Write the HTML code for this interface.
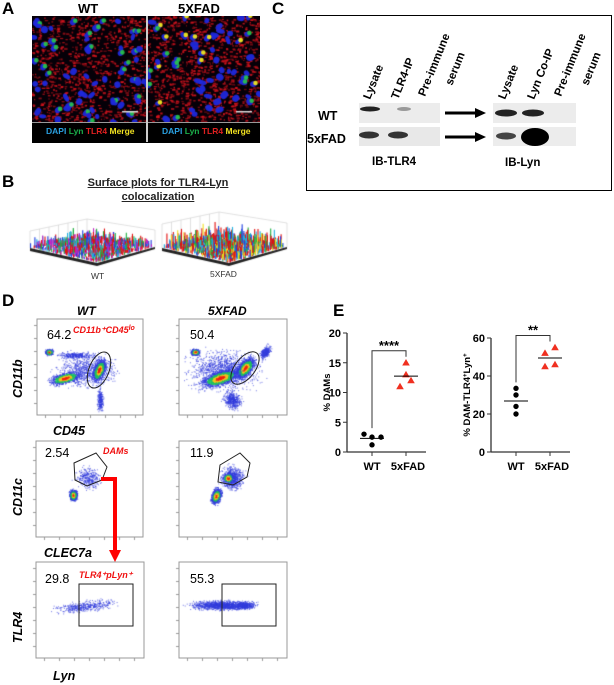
<!DOCTYPE html>
<html><head><meta charset="utf-8"><style>
body{margin:0;background:#fff;width:614px;height:685px;position:relative;overflow:hidden;font-family:"Liberation Sans",Arial,sans-serif}
.a{position:absolute}
canvas{position:absolute}
.lbl{position:absolute;font-weight:bold;font-size:17px}
</style></head><body>
<div class="lbl" style="left:2px;top:-1px">A</div>
<div class="lbl" style="left:2px;top:172px">B</div>
<div class="lbl" style="left:272px;top:-1px">C</div>
<div class="lbl" style="left:2px;top:291px">D</div>
<div class="lbl" style="left:333px;top:301px">E</div>

<div class="a" style="left:78px;top:1px;font-weight:bold;font-size:13px">WT</div>
<div class="a" style="left:178px;top:1px;font-weight:bold;font-size:13px">5XFAD</div>
<canvas id="micA" width="228" height="106" style="left:32px;top:16px"></canvas>
<div class="a" style="left:32px;top:122px;width:228px;height:20px;background:#000;border-top:1px solid #999"></div>
<div class="a" style="left:146px;top:16px;width:1.5px;height:126px;background:#ccc"></div>
<div class="a" style="left:46px;top:126px;font-size:8.5px;font-weight:bold"><span style="color:#2aa0e0">DAPI</span> <span style="color:#1bb04a">Lyn</span> <span style="color:#e02020">TLR4</span> <span style="color:#f0e020">Merge</span></div>
<div class="a" style="left:162px;top:126px;font-size:8.5px;font-weight:bold"><span style="color:#2aa0e0">DAPI</span> <span style="color:#1bb04a">Lyn</span> <span style="color:#e02020">TLR4</span> <span style="color:#f0e020">Merge</span></div>

<div class="a" style="left:58px;top:176px;width:200px;text-align:center;font-size:11px;font-weight:bold;text-decoration:underline;line-height:14px;color:#222">Surface plots for TLR4-Lyn<br>colocalization</div>
<canvas id="surf" width="300" height="60" style="left:0px;top:210px"></canvas>
<div class="a" style="left:91px;top:271px;font-size:8.5px;color:#333">WT</div>
<div class="a" style="left:210px;top:269px;font-size:8.5px;color:#333">5XFAD</div>

<div class="a" style="left:306px;top:15px;width:304px;height:174px;border:1.5px solid #000"></div>
<svg class="a" style="left:0;top:0" width="614" height="300">
<g font-weight="bold" font-size="11.5" font-family="Liberation Sans">
<text transform="translate(370,100) rotate(-68)">Lysate</text>
<text transform="translate(398,100) rotate(-68)">TLR4-IP</text>
<text transform="translate(425,97) rotate(-68)">Pre-immune</text>
<text transform="translate(452,86) rotate(-68)">serum</text>
<text transform="translate(505,100) rotate(-68)">Lysate</text>
<text transform="translate(534,100) rotate(-68)">Lyn Co-IP</text>
<text transform="translate(561,97) rotate(-68)">Pre-immune</text>
<text transform="translate(588,86) rotate(-68)">serum</text>
</g>
<rect x="359" y="103" width="81" height="20" fill="#ececec"/>
<rect x="359" y="127" width="81" height="19" fill="#e8e8e8"/>
<rect x="493" y="103" width="83" height="20" fill="#ececec"/>
<rect x="493" y="127" width="83" height="19" fill="#ececec"/>
<ellipse cx="370" cy="109" rx="10" ry="2.5" fill="#222"/>
<ellipse cx="404" cy="109" rx="7" ry="2" fill="#999"/>
<ellipse cx="369" cy="135" rx="10" ry="3.5" fill="#333"/>
<ellipse cx="398" cy="135" rx="10" ry="3.5" fill="#333"/>
<ellipse cx="506" cy="113" rx="11" ry="3.5" fill="#222"/>
<ellipse cx="533" cy="113" rx="11" ry="3.5" fill="#222"/>
<ellipse cx="506" cy="136" rx="10" ry="3.5" fill="#444"/>
<ellipse cx="535" cy="137" rx="14" ry="9" fill="#000"/>
<g stroke="#000" stroke-width="3"><line x1="445" y1="113" x2="476" y2="113"/><line x1="445" y1="137" x2="476" y2="137"/></g>
<polygon points="475,108 486,113 475,118" fill="#000"/><polygon points="475,132 486,137 475,142" fill="#000"/>
<text x="318" y="120" font-size="12.5" font-weight="bold">WT</text>
<text x="307" y="143" font-size="12.5" font-weight="bold">5xFAD</text>
<text x="372" y="165" font-size="11.5" font-weight="bold">IB-TLR4</text>
<text x="505" y="166" font-size="11.5" font-weight="bold">IB-Lyn</text>
</svg>

<!-- Panel D -->
<canvas id="flow" width="330" height="685" style="left:0;top:0"></canvas>
<svg class="a" style="left:0;top:0" width="330" height="685" font-family="Liberation Sans">
<g font-size="12" font-weight="bold" font-style="italic">
<text x="77" y="315">WT</text><text x="208" y="315">5XFAD</text></g>
<g fill="none" stroke="#999" stroke-width="1">
<rect x="37" y="319" width="106" height="96"/><rect x="179" y="319" width="108" height="96"/>
<rect x="36" y="441" width="107" height="96"/><rect x="179" y="441" width="108" height="96"/>
<rect x="36" y="562" width="108" height="96"/><rect x="179" y="562" width="108" height="96"/>
</g>
<g fill="none" stroke="#222" stroke-width="1">
<ellipse cx="99" cy="370" rx="10" ry="19" transform="rotate(22 99 370)"/>
<ellipse cx="245" cy="368" rx="10" ry="19" transform="rotate(38 245 368)"/>
<polygon points="74,463 96,453 107,467 102,480 87,486 75,480"/>
<polygon points="220,465 240,453 250,463 247,477 233,485 218,482"/>
<rect x="79" y="584" width="54" height="42"/><rect x="222" y="584" width="54" height="42"/>
</g>
<g font-size="12.5" fill="#000"><text x="47" y="339">64.2</text><text x="190" y="339">50.4</text>
<text x="45" y="457">2.54</text><text x="190" y="457">11.9</text>
<text x="45" y="583">29.8</text><text x="190" y="583">55.3</text></g>
<g font-size="9" fill="#f01010" font-weight="bold" font-style="italic">
<text x="73" y="333">CD11b⁺CD45<tspan font-size="7" dy="-3">lo</tspan></text>
<text x="103" y="454">DAMs</text>
<text x="79" y="578">TLR4⁺pLyn⁺</text></g>
<g font-size="12.5" font-weight="bold" font-style="italic">
<text transform="translate(22,398) rotate(-90)">CD11b</text>
<text x="53" y="435">CD45</text>
<text transform="translate(22,516) rotate(-90)">CD11c</text>
<text x="44" y="557">CLEC7a</text>
<text transform="translate(22,643) rotate(-90)">TLR4</text>
<text x="53" y="680">Lyn</text></g>
<polyline points="101,479 115,479 115,552" fill="none" stroke="#f00" stroke-width="4"/>
<polygon points="109,550 121,550 115,562" fill="#f00"/>
</svg>

<!-- Panel E -->
<svg class="a" id="eSvg" style="left:0;top:0" width="614" height="685" font-family="Liberation Sans"></svg>

<script>
// Panel E data
const groups=["WT","5xFAD"];
const damsWT=[3.0,2.5,2.5,1.2];
const dams5x=[15.0,13.0,12.0,11.0];
const damTicks=[0,5,10,15,20];
const tlrWT=[33.5,30,24,20];
const tlr5x=[52,55,45,46];
const tlrTicks=[0,20,40,60];
const damSig="****", tlrSig="**";

const NS="http://www.w3.org/2000/svg";
const svg=document.getElementById('eSvg');
function mk(t,a,p){const e=document.createElementNS(NS,t);for(const k in a)e.setAttribute(k,a[k]);(p||svg).appendChild(e);return e;}
const mean=a=>a.reduce((s,v)=>s+v,0)/a.length;
function chart(cfg){
  const {ax,yTop,yBot,xs,ticks,wt,fx,sig,ylabel,name,ylx,wdx,fdx}=cfg;
  const g=mk('g',{});
  
  
  const max=ticks[ticks.length-1];
  const y=v=>yBot-(v/max)*(yBot-yTop);
  const x=i=>xs[0]+i*(xs[1]-xs[0]);
  mk('line',{x1:ax,y1:yTop,x2:ax,y2:yBot,stroke:'#333','stroke-width':1.3},g);
  mk('line',{x1:ax,y1:yBot,x2:x(1)+20,y2:yBot,stroke:'#333','stroke-width':1.3},g);
  ticks.forEach(t=>{mk('line',{x1:ax-4,y1:y(t),x2:ax,y2:y(t),stroke:'#333'},g);
    const tx=mk('text',{x:ax-6,y:y(t)+4,'text-anchor':'end','font-size':11,'font-weight':'bold'},g);tx.textContent=t;});
  groups.forEach((gname,i)=>{mk('line',{x1:x(i),y1:yBot,x2:x(i),y2:yBot+4,stroke:'#333'},g);
    const tx=mk('text',{x:x(i)+(i?2:0),y:yBot+18,'text-anchor':'middle','font-size':11,'font-weight':'bold'},g);tx.textContent=gname;});
  wt.forEach((v,j)=>{const c=mk('circle',{cx:x(0)+wdx[j],cy:y(v),r:2.7,fill:'#000'},g);});
  fx.forEach((v,j)=>{const cx=x(1)+fdx[j],cy=y(v);const p=mk('polygon',{points:`${cx},${cy-3.8} ${cx+3.8},${cy+2.7} ${cx-3.8},${cy+2.7}`,fill:'#f03020'},g);});
  [wt,fx].forEach((a,i)=>mk('line',{x1:x(i)-12,x2:x(i)+12,y1:y(mean(a)),y2:y(mean(a)),stroke:'#000'},g));
  const top=Math.max(...wt,...fx);const by=y(top)-12;
  mk('polyline',{points:`${x(0)},${y(Math.max(...wt))-6} ${x(0)},${by} ${x(1)},${by} ${x(1)},${y(top)-6}`,fill:'none',stroke:'#333'},g);
  const st=mk('text',{x:(x(0)+x(1))/2,y:by-1,'text-anchor':'middle','font-size':13,'font-weight':'bold'},g);st.textContent=sig;
  const yl=mk('text',{transform:`translate(${ylx},${(yTop+yBot)/2}) rotate(-90)`,'text-anchor':'middle','font-size':9.5,'font-weight':'bold'},g);
  yl.innerHTML=ylabel;
}
chart({ax:347,yTop:333,yBot:452,xs:[372,406],ticks:damTicks,wt:damsWT,fx:dams5x,sig:damSig,ylabel:'% DAMs',name:'dams-chart',ylx:330,wdx:[-8,0,9,0],fdx:[0,0,5,-6]});
chart({ax:491,yTop:338,yBot:452,xs:[516,550],ticks:tlrTicks,wt:tlrWT,fx:tlr5x,sig:tlrSig,ylabel:'% DAM-TLR4<tspan dy="-3" font-size="6">+</tspan><tspan dy="3">Lyn</tspan><tspan dy="-3" font-size="6">+</tspan>',name:'dam-tlr4-lyn-chart',ylx:470,wdx:[0,0,0,0],fdx:[-5,5,-5,5]});

// seeded texture generator (image texture only)
let sd=7;function rnd(){sd=(sd*16807)%2147483647;return sd/2147483647;}
function gau(){return (rnd()+rnd()+rnd()-1.5)/1.5;}
// microscopy
(function(){const c=document.getElementById('micA').getContext('2d');c.fillStyle='#050008';c.fillRect(0,0,228,106);
 for(let i=0;i<2200;i++){c.fillStyle=`rgba(220,20,30,${0.4+rnd()*0.5})`;c.fillRect(rnd()*228,rnd()*106,1+rnd()*2.5,1+rnd()*1.2);}
 for(let i=0;i<130;i++){const x=rnd()*228,y=rnd()*106;c.fillStyle='rgba(30,40,220,0.95)';c.beginPath();c.ellipse(x,y,2.5+rnd()*2,2+rnd()*1.5,rnd()*3,0,7);c.fill();
  if(rnd()<0.3){c.fillStyle=x>114&&rnd()<0.5?'rgba(240,230,30,0.95)':'rgba(40,200,70,0.9)';c.beginPath();c.arc(x+2,y-1,2.3,0,7);c.fill();}}
 c.fillStyle='#ddd';c.fillRect(90,95,16,1.5);c.fillRect(204,95,16,1.5);})();
// surface plots
(function(){const c=document.getElementById('surf').getContext('2d');
 [[0,11,['#e01010','#20b040','#2040e0','#c020c0','#20b0e0','#e01010']],[132,18,['#e01010','#e01010','#f0e020','#20b0e0','#2040e0','#20b040']]].forEach(([ox,hm,cols])=>{
  const L=[ox+30,38],B=[ox+87,26],R=[ox+155,37],F=[ox+97,53];
  const pt=(u,v)=>[L[0]+(B[0]-L[0])*u+(F[0]-L[0])*v,L[1]+(B[1]-L[1])*u+(F[1]-L[1])*v];
  c.strokeStyle='#ccc';c.lineWidth=0.6;
  for(let k=0;k<=6;k++){const a=pt(k/6,0);c.beginPath();c.moveTo(a[0],a[1]);c.lineTo(a[0],a[1]-hm-6);c.stroke();}
  c.beginPath();c.moveTo(L[0],L[1]-hm-6);c.lineTo(B[0],B[1]-hm-6);c.lineTo(R[0],R[1]-hm-6);c.stroke();
  c.beginPath();c.moveTo(R[0],R[1]);c.lineTo(R[0],R[1]-hm-6);c.stroke();
  c.lineWidth=1.1;
  for(let i=0;i<1000;i++){const u=rnd(),v=rnd();const x=L[0]+(B[0]-L[0])*u+(F[0]-L[0])*v+(R[0]-B[0]-(F[0]-L[0]))*u*v;
   const yb=L[1]+(B[1]-L[1])*u+(F[1]-L[1])*v+(R[1]-B[1]-(F[1]-L[1]))*u*v;const h=2+rnd()*rnd()*hm;
   c.strokeStyle=cols[Math.floor(rnd()*cols.length)];c.beginPath();c.moveTo(x,yb);c.lineTo(x,yb-h);c.stroke();}
  c.fillStyle='#222';c.beginPath();c.moveTo(L[0],L[1]);c.lineTo(F[0],F[1]);c.lineTo(R[0],R[1]);c.lineTo(R[0],R[1]+2);c.lineTo(F[0],F[1]+3);c.lineTo(L[0],L[1]+3);c.fill();});})();
// flow cytometry
(function(){const c=document.getElementById('flow').getContext('2d');
 function cloud(cx,cy,sx,sy,n,rot,hot){for(let i=0;i<n;i++){let a=gau(),b=gau();const r=Math.hypot(a,b);
   const x=cx+(a*sx*Math.cos(rot)-b*sy*Math.sin(rot)),y=cy+(a*sx*Math.sin(rot)+b*sy*Math.cos(rot));
   c.fillStyle=!hot?'rgba(50,60,220,0.7)':r<0.2?'#f02010':r<0.35?'#f0c020':r<0.55?'#20c060':'rgba(50,60,220,0.8)';c.fillRect(x,y,1,1);}}
 function box(x0,y0,w,h,f){c.save();c.beginPath();c.rect(x0,y0,w,h);c.clip();f();c.restore();}
 box(37,319,106,96,()=>{cloud(88,370,40,22,900,0,0);cloud(99,370,7,15,1300,0.4,1);cloud(65,378,20,7,1100,-0.25,1);cloud(49,352,5,4,350,0,1);cloud(75,355,22,4,300,0,0);cloud(100,400,4,15,250,0,0);});
 box(179,319,108,96,()=>{cloud(225,370,45,25,1500,0,0);cloud(245,368,8,16,1500,0.7,1);cloud(220,378,25,9,1500,-0.3,1);cloud(195,352,6,4,400,0,1);cloud(232,400,12,10,500,0.7,0);cloud(265,352,6,10,300,0.6,0);});
 box(36,441,107,96,()=>{cloud(73,495,5,7,900,0,1);cloud(88,478,16,14,350,0.5,0);});
 box(179,441,108,96,()=>{cloud(216,496,6,10,1100,0.35,1);cloud(232,478,15,15,800,0.4,0);cloud(228,478,7,7,250,0,1);});
 box(36,562,108,96,()=>{cloud(85,606,40,7,450,-0.1,0);});
 box(179,562,108,96,()=>{cloud(222,605,42,6,1400,0,0);cloud(244,605,12,5,350,0,0);});
 c.fillStyle='#555';
 [[37,319,106,96],[179,319,108,96],[36,441,107,96],[179,441,108,96],[36,562,108,96],[179,562,108,96]].forEach(([x,y,w,h])=>{
  for(let k=0;k<7;k++){c.fillRect(x-3,y+6+k*13,3,0.6);c.fillRect(x+8+k*15,y+h,0.6,3);}});
})();
</script>
</body></html>
